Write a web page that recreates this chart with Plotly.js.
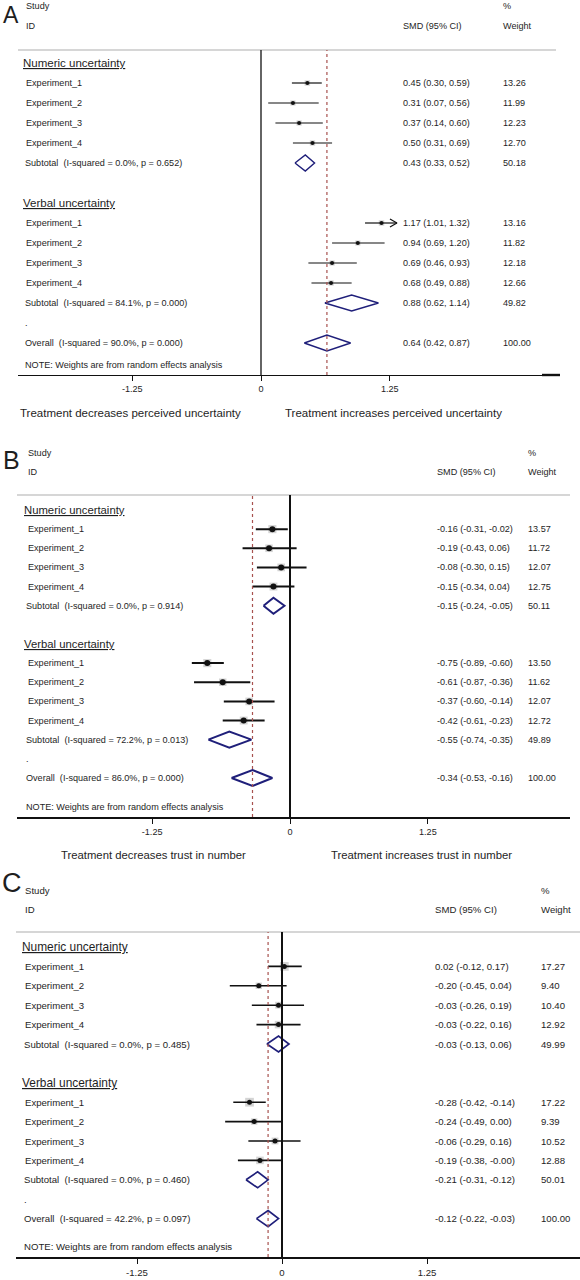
<!DOCTYPE html>
<html lang="en">
<head>
<meta charset="UTF-8">
<title>Forest plots: perceived uncertainty and trust</title>
<script src="https://cdn.plot.ly/plotly-3.0.1.min.js"></script>
<style>
  html, body { margin: 0; padding: 0; background: #fff; }
  #chart { width: 580px; height: 1280px; }
</style>
</head>
<body>
<div id="chart"></div>
<script>
// ---- data ----
var studyNames = ['Experiment_1', 'Experiment_2', 'Experiment_3', 'Experiment_4'];
var groupNames = ['Numeric uncertainty', 'Verbal uncertainty'];
var tickVals = [-1.25, 0, 1.25];
var tickText = ['-1.25', '0', '1.25'];

// A: perceived uncertainty
var aNumEst = [0.45, 0.31, 0.37, 0.50];
var aNumLo  = [0.30, 0.07, 0.14, 0.31];
var aNumHi  = [0.59, 0.56, 0.60, 0.69];
var aNumWt  = [13.26, 11.99, 12.23, 12.70];
var aVerEst = [1.17, 0.94, 0.69, 0.68];
var aVerLo  = [1.01, 0.69, 0.46, 0.49];
var aVerHi  = [1.32, 1.20, 0.93, 0.88];
var aVerWt  = [13.16, 11.82, 12.18, 12.66];
var aSubEst = [0.43, 0.88];
var aSubLo  = [0.33, 0.62];
var aSubHi  = [0.52, 1.14];
var aSubWt  = [50.18, 49.82];
var aSubI2  = [0.0, 84.1];
var aSubP   = [0.652, 0.000];
var aAll    = [0.64, 0.42, 0.87];   // est, lo, hi
var aAllI2  = 90.0;
var aAllP   = 0.000;
var aSides  = ['Treatment decreases perceived uncertainty', 'Treatment increases perceived uncertainty'];

// B: trust in number
var bNumEst = [-0.16, -0.19, -0.08, -0.15];
var bNumLo  = [-0.31, -0.43, -0.30, -0.34];
var bNumHi  = [-0.02, 0.06, 0.15, 0.04];
var bNumWt  = [13.57, 11.72, 12.07, 12.75];
var bVerEst = [-0.75, -0.61, -0.37, -0.42];
var bVerLo  = [-0.89, -0.87, -0.60, -0.61];
var bVerHi  = [-0.60, -0.36, -0.14, -0.23];
var bVerWt  = [13.50, 11.62, 12.07, 12.72];
var bSubEst = [-0.15, -0.55];
var bSubLo  = [-0.24, -0.74];
var bSubHi  = [-0.05, -0.35];
var bSubWt  = [50.11, 49.89];
var bSubI2  = [0.0, 72.2];
var bSubP   = [0.914, 0.013];
var bAll    = [-0.34, -0.53, -0.16];
var bAllI2  = 86.0;
var bAllP   = 0.000;
var bSides  = ['Treatment decreases trust in number', 'Treatment increases trust in number'];

// C
var cNumEst = [0.02, -0.20, -0.03, -0.03];
var cNumLo  = [-0.12, -0.45, -0.26, -0.22];
var cNumHi  = [0.17, 0.04, 0.19, 0.16];
var cNumWt  = [17.27, 9.40, 10.40, 12.92];
var cVerEst = [-0.28, -0.24, -0.06, -0.19];
var cVerLo  = [-0.42, -0.49, -0.29, -0.38];
var cVerHi  = [-0.14, 0.00, 0.16, -0.004];
var cVerWt  = [17.22, 9.39, 10.52, 12.88];
var cSubEst = [-0.03, -0.21];
var cSubLo  = [-0.13, -0.31];
var cSubHi  = [0.06, -0.12];
var cSubWt  = [49.99, 50.01];
var cSubI2  = [0.0, 0.0];
var cSubP   = [0.485, 0.460];
var cAll    = [-0.12, -0.22, -0.03];
var cAllI2  = 42.2;
var cAllP   = 0.097;

// ---- page geometry (pixels of the 580x1280 picture) ----
var W = 580, H = 1280;
var FONT = 'Liberation Sans, Arial, Helvetica, sans-serif';
var TXT = '#1e1e1e';
var NAVY = '#1f1f7a';
var RED = '#a8524f';
var GRAY_BOX = '#c2c2c2';

function px(x) { return x / W; }
function py(y) { return 1 - y / H; }
function f2(v) { return v.toFixed(2); }
function ciText(e, l, h) { return f2(e) + ' (' + f2(l) + ', ' + f2(h) + ')'; }
function hetText(i2, p) { return '(I-squared = ' + i2.toFixed(1) + '%, p = ' + p.toFixed(3) + ')'; }

var panels = [
  {
    letter: 'A', est: [aNumEst, aVerEst], lo: [aNumLo, aVerLo], hi: [aNumHi, aVerHi], wt: [aNumWt, aVerWt],
    subEst: aSubEst, subLo: aSubLo, subHi: aSubHi, subWt: aSubWt, subI2: aSubI2, subP: aSubP,
    all: aAll, allI2: aAllI2, allP: aAllP, sides: aSides,
    geo: {
      letterX: 1, letterY: 15, letterSize: 23, headY: [6, 26], grayY: 50, grayEnd: 556, axisY: 375,
      row0: 63, rowH: 20, left: 18, right: 560, zero: 261, unit: 103,
      headX: 23, expX: 26, subX: 25, smdX: 403, wtX: 503, noteRow: 15.1,
      sideY: 413, sideX: [130, 393], fs: 9.1, hs: 11.5, ci: 1.2, dot: 4, boxK: 1.5, axisW: 1.3, diaW: 1.4,
      stub: 542
    }
  },
  {
    letter: 'B', est: [bNumEst, bVerEst], lo: [bNumLo, bVerLo], hi: [bNumHi, bVerHi], wt: [bNumWt, bVerWt],
    subEst: bSubEst, subLo: bSubLo, subHi: bSubHi, subWt: bSubWt, subI2: bSubI2, subP: bSubP,
    all: bAll, allI2: bAllI2, allP: bAllP, sides: bSides,
    geo: {
      letterX: 1, letterY: 460, letterSize: 25, headY: [453, 472], grayY: 495, grayEnd: 570, axisY: 817,
      row0: 510, rowH: 19.14, left: 17, right: 570, zero: 290, unit: 110.3,
      headX: 24, expX: 28, subX: 26, smdX: 437, wtX: 528, noteRow: 15.5,
      sideY: 855, sideX: [153, 421], fs: 9.1, hs: 11.3, ci: 2, dot: 6, boxK: 2.2, axisW: 2, diaW: 2,
      stub: null
    }
  },
  {
    letter: 'C', est: [cNumEst, cVerEst], lo: [cNumLo, cVerLo], hi: [cNumHi, cVerHi], wt: [cNumWt, cVerWt],
    subEst: cSubEst, subLo: cSubLo, subHi: cSubHi, subWt: cSubWt, subI2: cSubI2, subP: cSubP,
    all: cAll, allI2: cAllI2, allP: cAllP, sides: null,
    geo: {
      letterX: 0, letterY: 883, letterSize: 27, headY: [890, 909], grayY: 932, grayEnd: 580, axisY: 1257,
      row0: 947, rowH: 19.4, left: 16, right: 580, zero: 282, unit: 116,
      headX: 22, expX: 25, subX: 24, smdX: 435, wtX: 541, noteRow: 15.46,
      sideY: 0, sideX: null, fs: 9.6, hs: 11.9, ci: 1.6, dot: 5, boxK: 2.1, axisW: 2, diaW: 1.7,
      stub: null
    }
  }
];

var traces = [];
var annotations = [];
var shapes = [];
var layout = {
  width: W, height: H,
  margin: {l: 0, r: 0, t: 0, b: 0},
  paper_bgcolor: '#fff', plot_bgcolor: 'rgba(0,0,0,0)',
  showlegend: false, hovermode: false,
  font: {family: FONT, color: TXT, size: 9.3}
};

function text(str, x, xref, y, yref, size, anchor) {
  annotations.push({
    text: str, x: x, xref: xref, y: y, yref: yref,
    xanchor: anchor || 'left', yanchor: 'middle', showarrow: false,
    font: {family: FONT, size: size, color: TXT}
  });
}

panels.forEach(function (p, i) {
  var n = i === 0 ? '' : String(i + 1);
  var xa = 'x' + n, ya = 'y' + n;
  var g = p.geo;
  function rowOf(y) { return (y - g.row0) / g.rowH; }

  layout['xaxis' + n] = {
    domain: [px(g.left), px(g.right)],
    range: [(g.left - g.zero) / g.unit, (g.right - g.zero) / g.unit],
    anchor: ya, showline: true, linecolor: '#111', linewidth: g.axisW,
    ticks: 'outside', ticklen: 5, tickwidth: 1, tickcolor: '#111',
    tickvals: tickVals, ticktext: tickText,
    tickfont: {family: FONT, size: g.fs, color: TXT},
    showgrid: false, zeroline: false, fixedrange: true
  };
  layout['yaxis' + n] = {
    domain: [py(g.axisY), py(g.grayY)],
    range: [rowOf(g.axisY), rowOf(g.grayY)],
    anchor: xa, visible: false, fixedrange: true
  };

  // study rows
  var bx = [], by = [], bs = [], lx = [], ly = [];
  var diaX = [], diaY = [];
  var chevX = [], chevY = [];
  var dh = 8 / g.rowH;   // half height of the diamonds, in rows
  var xMax = tickVals[tickVals.length - 1];

  for (var k = 0; k < 2; k++) {
    var base = k * 7;
    text('<u>' + groupNames[k] + '</u>', px(g.headX - 2), 'paper', base, ya, g.hs);
    for (var j = 0; j < studyNames.length; j++) {
      var r = base + 1 + j;
      var e = p.est[k][j], l = p.lo[k][j], h = p.hi[k][j], w = p.wt[k][j];
      bx.push(e); by.push(r); bs.push(g.boxK * Math.sqrt(w));
      lx.push(l, h, null); ly.push(r, r, null);
      if (h > xMax) {
        var ax = 7 / g.unit, ay = 4 / g.rowH;
        chevX.push(h - ax, h, h - ax, null);
        chevY.push(r - ay, r, r + ay, null);
      }
      text(studyNames[j], px(g.expX - 2), 'paper', r, ya, g.fs);
      text(ciText(e, l, h), px(g.smdX - 2), 'paper', r, ya, g.fs);
      text(f2(w), px(g.wtX - 2), 'paper', r, ya, g.fs);
    }
    var rs = base + 5;
    diaX.push(p.subLo[k], p.subEst[k], p.subHi[k], p.subEst[k], p.subLo[k], null);
    diaY.push(rs, rs - dh, rs, rs + dh, rs, null);
    text('Subtotal\u00a0 ' + hetText(p.subI2[k], p.subP[k]), px(g.subX - 2), 'paper', rs, ya, g.fs);
    text(ciText(p.subEst[k], p.subLo[k], p.subHi[k]), px(g.smdX - 2), 'paper', rs, ya, g.fs);
    text(f2(p.subWt[k]), px(g.wtX - 2), 'paper', rs, ya, g.fs);
  }

  // overall
  var ro = 14;
  diaX.push(p.all[1], p.all[0], p.all[2], p.all[0], p.all[1], null);
  diaY.push(ro, ro - dh, ro, ro + dh, ro, null);
  text('.', px(g.subX - 2), 'paper', 13, ya, g.fs);
  text('Overall\u00a0 ' + hetText(p.allI2, p.allP), px(g.subX - 2), 'paper', ro, ya, g.fs);
  text(ciText(p.all[0], p.all[1], p.all[2]), px(g.smdX - 2), 'paper', ro, ya, g.fs);
  text(f2(100), px(g.wtX - 2), 'paper', ro, ya, g.fs);
  text('NOTE: Weights are from random effects analysis', px(g.subX - 2), 'paper', g.noteRow, ya, g.fs);

  // header
  text('Study', px(g.expX - 2), 'paper', py(g.headY[0]), 'paper', g.fs);
  text('ID', px(g.expX - 2), 'paper', py(g.headY[1]), 'paper', g.fs);
  text('%', px(g.wtX - 2), 'paper', py(g.headY[0]), 'paper', g.fs);
  text('SMD (95% CI)', px(g.smdX - 2), 'paper', py(g.headY[1]), 'paper', g.fs);
  text('Weight', px(g.wtX - 2), 'paper', py(g.headY[1]), 'paper', g.fs);
  text(p.letter, px(g.letterX), 'paper', py(g.letterY), 'paper', g.letterSize);

  if (p.sides) {
    text(p.sides[0], px(g.sideX[0]), 'paper', py(g.sideY), 'paper', g.hs, 'center');
    text(p.sides[1], px(g.sideX[1]), 'paper', py(g.sideY), 'paper', g.hs, 'center');
  }

  // header rule, null line, overall line
  shapes.push({type: 'line', xref: 'paper', yref: ya + ' domain',
    x0: px(g.left), x1: px(g.grayEnd), y0: 1, y1: 1,
    line: {color: '#c8c8c8', width: 1.5}});
  shapes.push({type: 'line', xref: xa, yref: ya + ' domain',
    x0: 0, x1: 0, y0: 0, y1: 1, line: {color: '#111', width: g.axisW}});
  shapes.push({type: 'line', xref: xa, yref: ya + ' domain',
    x0: p.all[0], x1: p.all[0], y0: 0, y1: 1,
    line: {color: RED, width: 1.2, dash: '3px,3px'}});
  if (g.stub) {
    // thicker bit at the right end of the axis line
    shapes.push({type: 'line', xref: 'paper', yref: ya + ' domain',
      x0: px(g.stub), x1: px(g.right), y0: 0, y1: 0,
      line: {color: '#111', width: 2.4}});
  }

  traces.push({
    type: 'scatter', mode: 'markers', x: bx, y: by, xaxis: xa, yaxis: ya,
    marker: {symbol: 'square', size: bs, color: GRAY_BOX, line: {width: 0}},
    hoverinfo: 'skip', cliponaxis: false
  });
  traces.push({
    type: 'scatter', mode: 'lines', x: lx, y: ly, xaxis: xa, yaxis: ya,
    line: {color: '#111', width: g.ci}, hoverinfo: 'skip'
  });
  if (chevX.length) {
    traces.push({
      type: 'scatter', mode: 'lines', x: chevX, y: chevY, xaxis: xa, yaxis: ya,
      line: {color: '#111', width: 1.2}, hoverinfo: 'skip'
    });
  }
  traces.push({
    type: 'scatter', mode: 'markers', x: bx, y: by, xaxis: xa, yaxis: ya,
    marker: {symbol: 'circle', size: g.dot, color: '#111', line: {width: 0}},
    hoverinfo: 'skip', cliponaxis: false
  });
  traces.push({
    type: 'scatter', mode: 'lines', x: diaX, y: diaY, xaxis: xa, yaxis: ya,
    line: {color: NAVY, width: g.diaW}, hoverinfo: 'skip'
  });
});

layout.annotations = annotations;
layout.shapes = shapes;

Plotly.newPlot('chart', traces, layout, {displayModeBar: false, staticPlot: true});
</script>
</body>
</html>
